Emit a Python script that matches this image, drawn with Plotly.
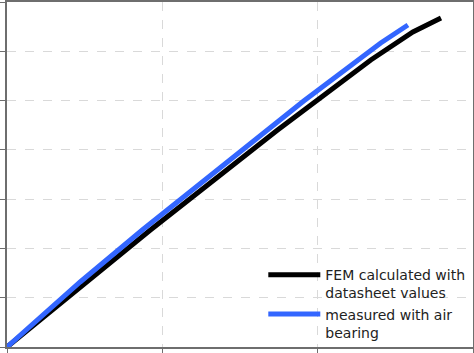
import plotly.graph_objects as go

# data (arbitrary units; tick labels are not visible)
fem_x = [0.0, 0.529, 0.923, 1.742, 2.342, 2.613, 2.794]
fem_y = [0.0, 1.359, 2.374, 4.402, 5.823, 6.391, 6.675]
air_x = [0.0, 0.471, 0.871, 1.910, 2.406, 2.581]
air_y = [0.0, 1.319, 2.374, 4.990, 6.168, 6.533]

names = ["FEM calculated with<br>datasheet values", "measured with air<br>bearing"]

fig = go.Figure()
fig.add_trace(go.Scatter(x=fem_x, y=fem_y, mode="lines", name=names[0],
                         line=dict(color="black", width=5)))
fig.add_trace(go.Scatter(x=air_x, y=air_y, mode="lines", name=names[1],
                         line=dict(color="#3366ff", width=5)))

axis_common = dict(showline=True, linecolor="#6e6e6e", linewidth=2, mirror=True,
                   ticks="outside", ticklen=6, tickcolor="#6e6e6e", tickwidth=1,
                   showticklabels=False, showgrid=True, gridcolor="#d9d9d9",
                   griddash="dash", gridwidth=1, zeroline=False)

fig.update_layout(
    width=474, height=353,
    margin=dict(l=7, r=1, t=2, b=6, autoexpand=False),
    paper_bgcolor="white", plot_bgcolor="white",
    xaxis=dict(range=[0, 3], dtick=1, **axis_common),
    yaxis=dict(range=[0, 7], dtick=1, **axis_common),
    showlegend=True,
    legend=dict(x=0.55, y=0.255, xanchor="left", yanchor="top",
                bgcolor="rgba(0,0,0,0)", borderwidth=0,
                font=dict(family="DejaVu Sans, Arial, sans-serif", size=14, color="#222"),
                itemwidth=52, valign="top", tracegroupgap=0),
)

fig.write_html("out.html")
